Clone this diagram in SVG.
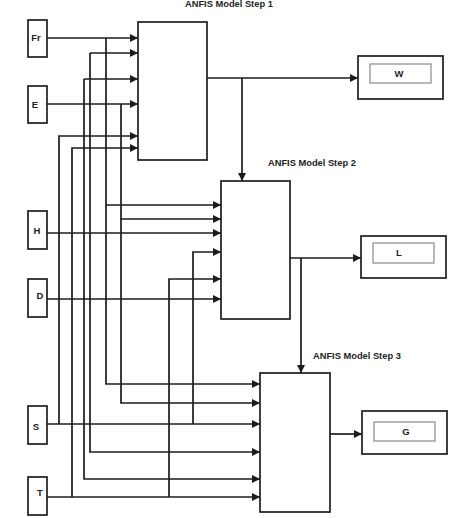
<svg xmlns="http://www.w3.org/2000/svg" width="474" height="518" viewBox="0 0 474 518">
<style>
.box{fill:#fff;stroke:#1e1e1e;stroke-width:1.7}
.inner{fill:#fff;stroke:#8a8a8a;stroke-width:1.2}
.lbl{font-family:"Liberation Sans",Arial,sans-serif;font-weight:bold;font-size:9.5px;fill:#222;text-anchor:middle}
.title{font-family:"Liberation Sans",Arial,sans-serif;font-weight:bold;font-size:9.3px;fill:#222}
.c{fill:none;stroke:#1c1c1c;stroke-width:1.7}
.a{marker-end:url(#arr)}
</style>
<defs>
<marker id="arr" viewBox="0 0 10 10" refX="10" refY="5" markerWidth="10" markerHeight="8" markerUnits="userSpaceOnUse" orient="auto">
<path d="M0,0 L10,5 L0,10 z" fill="#1c1c1c"/>
</marker>
</defs>
<g id="connectors">
<path class="c a" d="M47,38 H138"/>
<path class="c a" d="M90,53 H138"/>
<path class="c a" d="M90,53 V452 H260"/>
<path class="c a" d="M84,79 H138"/>
<path class="c a" d="M84,79 V479 H260"/>
<path class="c a" d="M47,104 H138"/>
<path class="c a" d="M59,424 V136 H138"/>
<path class="c a" d="M72,497 V148 H138"/>
<path class="c a" d="M106,38 V205 H221"/>
<path class="c a" d="M106,205 V384 H260"/>
<path class="c a" d="M121,104 V219 H221"/>
<path class="c a" d="M121,219 V403 H260"/>
<path class="c a" d="M47,233 H221"/>
<path class="c a" d="M193,424 V252 H221"/>
<path class="c a" d="M169,497 V279 H221"/>
<path class="c a" d="M47,299 H221"/>
<path class="c a" d="M47,424 H260"/>
<path class="c a" d="M47,497 H260"/>
<path class="c a" d="M207,78 H358"/>
<path class="c a" d="M242,78 V181"/>
<path class="c a" d="M290,258 H361"/>
<path class="c a" d="M301,258 V373"/>
<path class="c a" d="M330,434 H362"/>
</g>
<g id="Fr"><rect class="box" x="28" y="20" width="19" height="37"/><text class="lbl" x="36" y="41">Fr</text></g>
<g id="E"><rect class="box" x="28" y="86" width="19" height="37"/><text class="lbl" x="35" y="108">E</text></g>
<g id="H"><rect class="box" x="28" y="211" width="19" height="38"/><text class="lbl" x="37" y="234">H</text></g>
<g id="D"><rect class="box" x="28" y="279" width="19" height="38"/><text class="lbl" x="40" y="299">D</text></g>
<g id="S"><rect class="box" x="28" y="406" width="19" height="38"/><text class="lbl" x="36" y="430">S</text></g>
<g id="T"><rect class="box" x="28" y="477" width="19" height="38"/><text class="lbl" x="40" y="496">T</text></g>
<g id="step1"><rect class="box" x="138" y="22" width="69" height="138"/><text class="title" x="185" y="7">ANFIS Model Step 1</text></g>
<g id="step2"><rect class="box" x="221" y="181" width="69" height="138"/><text class="title" x="268" y="166">ANFIS Model Step 2</text></g>
<g id="step3"><rect class="box" x="260" y="373" width="70" height="139"/><text class="title" x="313" y="359">ANFIS Model Step 3</text></g>
<g id="W"><rect class="box" x="358" y="56" width="85" height="43"/><rect class="inner" x="370" y="64" width="61" height="19"/><text class="lbl" x="399" y="77">W</text></g>
<g id="L"><rect class="box" x="361" y="236" width="85" height="42"/><rect class="inner" x="373" y="243" width="61" height="20"/><text class="lbl" x="399" y="256">L</text></g>
<g id="G"><rect class="box" x="362" y="411" width="85" height="43"/><rect class="inner" x="374" y="422" width="61" height="19"/><text class="lbl" x="406" y="435">G</text></g>
</svg>
